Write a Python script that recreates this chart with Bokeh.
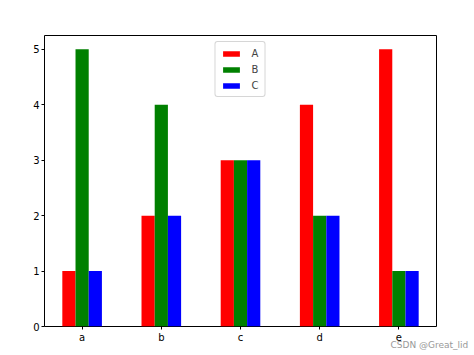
from bokeh.plotting import figure
from bokeh.models import ColumnDataSource, FixedTicker, Legend, LegendItem, Label
from bokeh.transform import dodge
from bokeh.embed import file_html
from bokeh.resources import INLINE

categories = ["a", "b", "c", "d", "e"]
series_A = [1, 2, 3, 4, 5]
series_B = [5, 4, 3, 2, 1]
series_C = [1, 2, 3, 2, 1]
y_ticks = [0, 1, 2, 3, 4, 5]

xpos = list(range(len(categories)))
src = ColumnDataSource(dict(x=xpos, A=series_A, B=series_B, C=series_C))

FONT = "DejaVu Sans"
p = figure(width=474, height=355, output_backend="svg", toolbar_location=None,
           x_range=(-0.475, 4.475), y_range=(0, 5.25),
           min_border_left=44, min_border_right=38, min_border_top=35, min_border_bottom=28)
p.background_fill_color = "white"
p.border_fill_color = "white"
p.outline_line_color = "black"
p.outline_line_width = 1
p.xgrid.visible = False
p.ygrid.visible = False

bw = 0.5 / 3
r1 = p.vbar(x=dodge("x", -bw, range=p.x_range), top="A", width=bw, source=src,
            fill_color="red", line_color=None)
r2 = p.vbar(x=dodge("x", 0, range=p.x_range), top="B", width=bw, source=src,
            fill_color="green", line_color=None)
r3 = p.vbar(x=dodge("x", bw, range=p.x_range), top="C", width=bw, source=src,
            fill_color="blue", line_color=None)

for ax in (p.xaxis[0], p.yaxis[0]):
    ax.major_label_text_font = FONT
    ax.major_label_text_font_size = "10px"
    ax.major_label_text_color = "black"
    ax.major_tick_in = 0
    ax.major_tick_out = 3
    ax.minor_tick_out = 0
    ax.minor_tick_in = 0
    ax.axis_line_color = None
    ax.major_tick_line_color = "black"
    ax.major_label_standoff = 2

p.xaxis.ticker = FixedTicker(ticks=xpos)
p.xaxis.major_label_overrides = {i: c for i, c in enumerate(categories)}
p.yaxis.ticker = FixedTicker(ticks=y_ticks)

legend = Legend(items=[LegendItem(label="A", renderers=[r1]),
                       LegendItem(label="B", renderers=[r2]),
                       LegendItem(label="C", renderers=[r3])],
                location="top_center", margin=6, padding=5, spacing=4,
                glyph_width=21, glyph_height=7, label_height=12, label_width=8,
                label_standoff=10, label_text_font=FONT, label_text_font_size="10px",
                border_line_color="#cccccc", border_line_alpha=0.8,
                background_fill_alpha=0.8, border_radius=3)
p.add_layout(legend, "center")

wm = Label(x=346, y=6, x_units="screen", y_units="screen", text="CSDN @Great_lid",
           text_font=FONT, text_font_size="9px", text_color="#999999")
p.add_layout(wm, "below")

open("out.html", "w").write(file_html(p, INLINE))
